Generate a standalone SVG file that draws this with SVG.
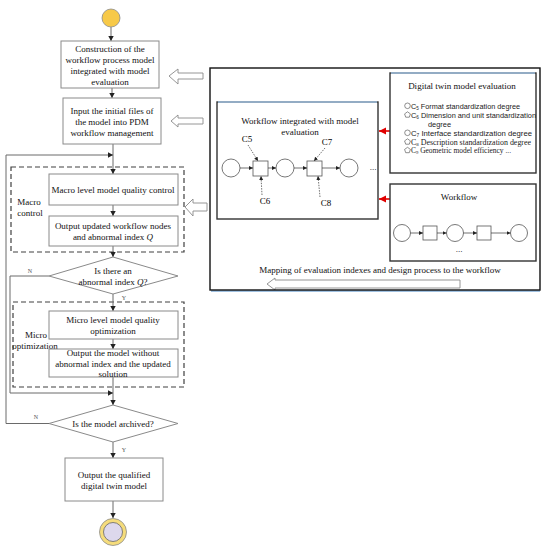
<svg xmlns="http://www.w3.org/2000/svg" width="546" height="550" viewBox="0 0 546 550">
<defs>
<style>
.t{font-family:"Liberation Serif","Times New Roman",serif;font-size:9px;fill:#111;text-anchor:middle}
.s{font-family:"Liberation Sans",Arial,sans-serif;font-size:8px;fill:#1a1a1a}
.yn{font-family:"Liberation Serif",serif;font-size:6px;fill:#555;text-anchor:middle}
.box{fill:#fff;stroke:#8a8a8a;stroke-width:1}
.dash{fill:none;stroke:#404040;stroke-width:1.2;stroke-dasharray:5,3}
.con{fill:none;stroke:#6a6a6a;stroke-width:1}
.pn{fill:#fff;stroke:#555;stroke-width:0.8}
.pc{fill:none;stroke:#333;stroke-width:0.7}
.pd{fill:none;stroke:#333;stroke-width:0.7;stroke-dasharray:1.5,1.2}
.hollow{fill:#fff;stroke:#8a8a8a;stroke-width:0.9}
.panel{fill:#fff;stroke:#333;stroke-width:1.4}
.bul{fill:#fff;stroke:#444;stroke-width:0.6}
</style>
<marker id="ah" markerWidth="6" markerHeight="6" refX="5" refY="3" orient="auto" markerUnits="userSpaceOnUse">
<path d="M0,0.3 L5,3 L0,5.7 Z" fill="#222"/>
</marker>
<marker id="ahs" markerWidth="5" markerHeight="5" refX="4" refY="2.5" orient="auto" markerUnits="userSpaceOnUse">
<path d="M0,0.5 L4,2.5 L0,4.5 Z" fill="#222"/>
</marker>
<marker id="ahr" markerWidth="8" markerHeight="8" refX="7" refY="4" orient="auto" markerUnits="userSpaceOnUse">
<path d="M0,0.5 L7,4 L0,7.5 Z" fill="#e00000"/>
</marker>
</defs>
<rect width="546" height="550" fill="#fff"/>

<!-- dashed groups -->
<g id="macro-group">
<rect class="dash" x="11" y="167" width="173" height="85"/>
<text class="t" x="29" y="205">Macro</text>
<text class="t" x="30" y="216">control</text>
</g>
<g id="micro-group">
<rect class="dash" x="13" y="302" width="171" height="85"/>
<text class="t" x="36" y="338">Micro</text>
<text class="t" x="35" y="349">optimization</text>
</g>

<g id="connectors">
<line class="con" x1="111" y1="27" x2="111" y2="41" marker-end="url(#ah)"/>
<line class="con" x1="112" y1="88" x2="112" y2="98" marker-end="url(#ah)"/>
<line class="con" x1="113" y1="144" x2="113" y2="174" marker-end="url(#ah)"/>
<line class="con" x1="113" y1="205" x2="113" y2="216" marker-end="url(#ah)"/>
<line class="con" x1="113" y1="246" x2="113" y2="257" marker-end="url(#ah)"/>
<line class="con" x1="113" y1="294" x2="113" y2="311" marker-end="url(#ah)"/>
<line class="con" x1="113" y1="339" x2="113" y2="349" marker-end="url(#ah)"/>
<line class="con" x1="113" y1="377" x2="113" y2="405" marker-end="url(#ah)"/>
<line class="con" x1="113" y1="442" x2="113" y2="458" marker-end="url(#ah)"/>
<line class="con" x1="113" y1="501" x2="113" y2="518" marker-end="url(#ah)"/>
<polyline class="con" points="49,276 10,276 10,393 113,393" marker-end="url(#ah)"/>
<polyline class="con" points="49,423.5 6,423.5 6,155 113,155" marker-end="url(#ah)"/>
<text class="yn" x="30" y="273">N</text>
<text class="yn" x="124" y="300">Y</text>
<text class="yn" x="36" y="419">N</text>
<text class="yn" x="124" y="452">Y</text>
<!-- hollow arrows -->
<path class="hollow" d="M169,76 L178,69 L178,73 L203,73 L203,79 L178,79 L178,84 Z"/>
<path class="hollow" d="M171,121 L178,115 L178,118 L203,118 L203,124 L178,124 L178,127 Z"/>
<path class="hollow" d="M185,207 L193,199 L193,203 L207,203 L207,211 L193,211 L193,216 Z"/>
<path class="hollow" d="M267,284 L275,278 L275,280 L460,280 L460,288 L275,288 L275,290 Z"/>
<!-- red arrows -->
<line x1="391" y1="131" x2="379" y2="131" stroke="#e00000" stroke-width="1.6" marker-end="url(#ahr)"/>
<line x1="391" y1="199" x2="379" y2="199" stroke="#e00000" stroke-width="1.6" marker-end="url(#ahr)"/>
</g>

<g id="start">
<circle cx="111" cy="18" r="9" fill="#F7C948" stroke="#8a8a8a" stroke-width="0.8"/>
</g>
<g id="box-construction">
<rect class="box" x="61" y="41" width="98" height="47"/>
<text class="t" x="110" y="52">Construction of the</text>
<text class="t" x="110" y="63">workflow process model</text>
<text class="t" x="110" y="74">integrated with model</text>
<text class="t" x="110" y="85">evaluation</text>
</g>
<g id="box-input">
<rect class="box" x="63" y="98" width="98" height="46"/>
<text class="t" x="112" y="114">Input the initial files of</text>
<text class="t" x="112" y="125">the model into PDM</text>
<text class="t" x="112" y="136">workflow management</text>
</g>
<g id="box-macro">
<rect class="box" x="49" y="174" width="129" height="31"/>
<text class="t" x="113" y="193">Macro level model quality control</text>
</g>
<g id="box-output-nodes">
<rect class="box" x="49" y="216" width="129" height="30"/>
<text class="t" x="113" y="229">Output updated workflow nodes</text>
<text class="t" x="113" y="240">and abnormal index <tspan font-style="italic">Q</tspan></text>
</g>
<g id="diamond-abnormal">
<polygon class="box" points="113,257 178,276 113,294 49,276"/>
<text class="t" x="113" y="274">Is there an</text>
<text class="t" x="113" y="285">abnormal index <tspan font-style="italic">Q</tspan>?</text>
</g>
<g id="box-micro">
<rect class="box" x="49" y="311" width="129" height="28"/>
<text class="t" x="113" y="323">Micro level model quality</text>
<text class="t" x="113" y="334">optimization</text>
</g>
<g id="box-output-model">
<rect class="box" x="49" y="349" width="129" height="28"/>
<text class="t" x="113" y="356">Output the model without</text>
<text class="t" x="113" y="367">abnormal index and the updated</text>
<text class="t" x="113" y="377">solution</text>
</g>
<g id="diamond-archived">
<polygon class="box" points="113,405 178,423.5 113,442 49,423.5"/>
<text class="t" x="113" y="427">Is the model archived?</text>
</g>
<g id="box-final">
<rect class="box" x="65" y="458" width="98" height="43"/>
<text class="t" x="114" y="478">Output the qualified</text>
<text class="t" x="114" y="489">digital twin model</text>
</g>
<g id="end">
<circle cx="113" cy="532" r="13.5" fill="#F5DC7B" stroke="#8a8a8a" stroke-width="0.8"/>
<circle cx="113" cy="532" r="9.5" fill="#DDD8EC" stroke="#666" stroke-width="0.8"/>
</g>

<g id="mapping-panel">
<line x1="211" y1="291" x2="540" y2="291" stroke="#9fc0e0" stroke-width="2"/>
<rect x="210" y="68" width="330" height="222" fill="none" stroke="#111" stroke-width="1.4"/>
<text class="t" x="380" y="273">Mapping of evaluation indexes and design process to the workflow</text>
</g>

<g id="workflow-integrated">
<rect class="panel" x="217" y="102" width="161" height="117"/>
<line x1="218" y1="102" x2="377" y2="102" stroke="#9fc0e0" stroke-width="1.4"/>
<text class="t" x="300" y="124">Workflow integrated with model</text>
<text class="t" x="300" y="135">evaluation</text>
<circle class="pn" cx="231" cy="168" r="9"/>
<rect class="pn" x="253" y="161" width="15" height="15"/>
<circle class="pn" cx="285" cy="168" r="9"/>
<rect class="pn" x="307" y="161" width="15" height="15"/>
<circle class="pn" cx="349" cy="168" r="9"/>
<line class="pc" x1="240" y1="168" x2="253" y2="168" marker-end="url(#ahs)"/>
<line class="pc" x1="268" y1="168" x2="276" y2="168" marker-end="url(#ahs)"/>
<line class="pc" x1="294" y1="168" x2="307" y2="168" marker-end="url(#ahs)"/>
<line class="pc" x1="322" y1="168" x2="340" y2="168" marker-end="url(#ahs)"/>
<text class="t" x="373" y="170">...</text>
<text class="t" x="247" y="142" style="fill:#000">C5</text>
<text class="t" x="327" y="145" style="fill:#000">C7</text>
<text class="t" x="265" y="204" style="fill:#000">C6</text>
<text class="t" x="326" y="206" style="fill:#000">C8</text>
<line class="pd" x1="248" y1="145" x2="258" y2="161" marker-end="url(#ahs)"/>
<line class="pd" x1="325" y1="148" x2="314" y2="161" marker-end="url(#ahs)"/>
<line class="pd" x1="262" y1="195" x2="261" y2="176" marker-end="url(#ahs)"/>
<line class="pd" x1="320" y1="197" x2="318" y2="176" marker-end="url(#ahs)"/>
</g>

<g id="digital-twin-evaluation">
<rect class="panel" x="390" y="73" width="146" height="100"/>
<line x1="391" y1="73" x2="535" y2="73" stroke="#9fc0e0" stroke-width="1.4"/>
<text class="t" x="462" y="89">Digital twin model evaluation</text>
<circle class="bul" cx="407.5" cy="105.8" r="2.8"/>
<polygon class="bul" points="407.5,111.8 410.4,113.9 409.3,117.2 405.7,117.2 404.6,113.9"/>
<circle class="bul" cx="407.5" cy="132.8" r="2.8"/>
<polygon class="bul" points="407.5,138.8 410.4,140.9 409.3,144.2 405.7,144.2 404.6,140.9"/>
<polygon class="bul" points="407.5,147.3 410.4,149.4 409.3,152.7 405.7,152.7 404.6,149.4"/>
<text class="s" x="411" y="108.5" textLength="109" lengthAdjust="spacingAndGlyphs">C<tspan font-size="5" dy="1">5</tspan><tspan dy="-1"> Format standardization degree</tspan></text>
<text class="s" x="411" y="117.5" textLength="125" lengthAdjust="spacingAndGlyphs">C<tspan font-size="5" dy="1">6</tspan><tspan dy="-1"> Dimension and unit standardization</tspan></text>
<text class="s" x="428" y="126.5" textLength="23" lengthAdjust="spacingAndGlyphs">degree</text>
<text class="s" x="411" y="135.5" textLength="121" lengthAdjust="spacingAndGlyphs">C<tspan font-size="5" dy="1">7</tspan><tspan dy="-1"> Interface standardization degree</tspan></text>
<text class="s" x="411" y="144.5" textLength="120" lengthAdjust="spacingAndGlyphs" style="font-family:'Liberation Serif',serif">C<tspan font-size="5" dy="1">8</tspan><tspan dy="-1"> Description standardization degree</tspan></text>
<text class="s" x="411" y="153" textLength="100" lengthAdjust="spacingAndGlyphs" style="font-family:'Liberation Serif',serif">C<tspan font-size="5" dy="1">9</tspan><tspan dy="-1"> Geometric model efficiency ...</tspan></text>
</g>

<g id="workflow">
<rect class="panel" x="390" y="184" width="146" height="77"/>
<text class="t" x="459" y="200">Workflow</text>
<circle class="pn" cx="402" cy="233" r="8.5"/>
<rect class="pn" x="423" y="226" width="14" height="14"/>
<circle class="pn" cx="455" cy="233" r="8.5"/>
<rect class="pn" x="477" y="226" width="14" height="14"/>
<circle class="pn" cx="519" cy="233" r="8.5"/>
<line class="pc" x1="410.5" y1="233" x2="423" y2="233" marker-end="url(#ahs)"/>
<line class="pc" x1="437" y1="233" x2="446.5" y2="233" marker-end="url(#ahs)"/>
<line class="pc" x1="463.5" y1="233" x2="477" y2="233" marker-end="url(#ahs)"/>
<line class="pc" x1="491" y1="233" x2="510.5" y2="233" marker-end="url(#ahs)"/>
<text class="t" x="459" y="252">...</text>
</g>
</svg>
